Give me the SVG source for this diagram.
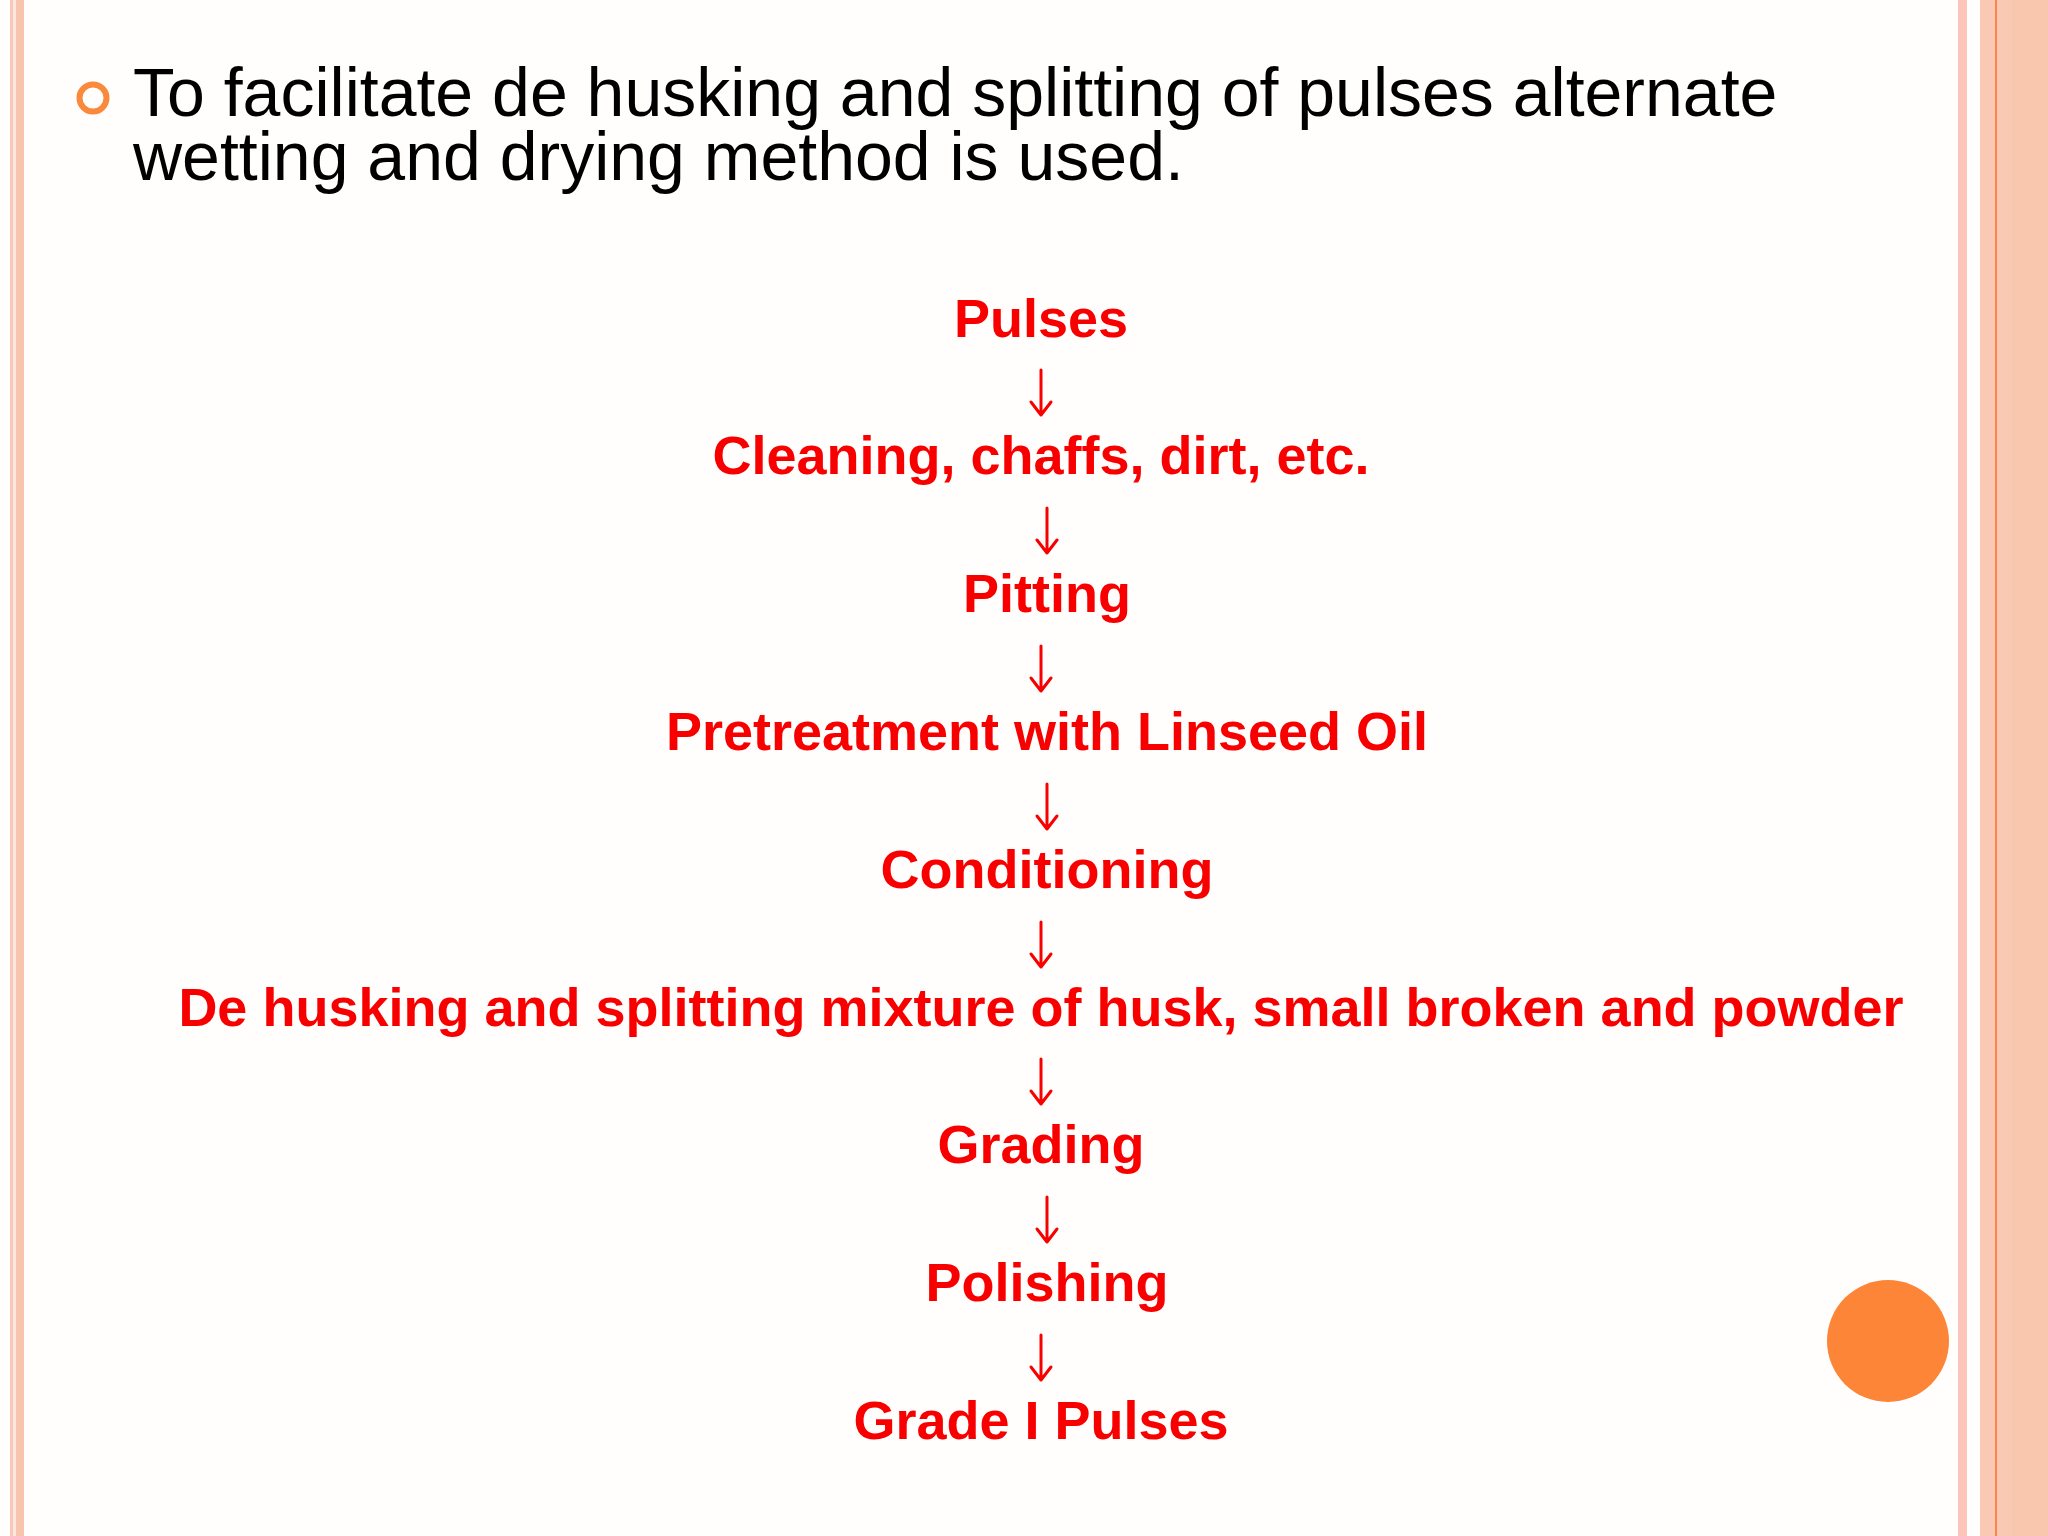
<svg xmlns="http://www.w3.org/2000/svg" width="2048" height="1536" viewBox="0 0 2048 1536">
<style>
.step{font-family:"Liberation Sans",Arial,sans-serif;font-weight:bold;font-size:54px;fill:#f80000;text-anchor:middle}
.body{font-family:"Liberation Sans",Arial,sans-serif;font-size:68px;fill:#000}
.arr{stroke:#f80000;stroke-width:3;fill:none;stroke-linecap:round;stroke-linejoin:round}
</style>
<rect width="2048" height="1536" fill="#fffefd"/>
<g id="left-border">
<rect x="10" y="0" width="3" height="1536" fill="#f7c8ba"/>
<rect x="13" y="0" width="3" height="1536" fill="#fde6dc"/>
<rect x="16" y="0" width="8" height="1536" fill="#f9c4ad"/>
</g>
<g id="right-border">
<rect x="1958" y="0" width="9" height="1536" fill="#fbc6b9"/>
<rect x="1980" y="0" width="68" height="1536" fill="#fac9b3"/>
<rect x="1995" y="0" width="2" height="1536" fill="#f7874a"/>
<rect x="2012" y="0" width="36" height="1536" fill="#f9c6ae"/>
</g>
<circle id="deco-dot" cx="1888" cy="1341" r="61" fill="#fd8537"/>
<g id="bullet">
<circle cx="93" cy="98" r="13.5" fill="none" stroke="#f98a3c" stroke-width="6"/>
<text class="body" x="133" y="116">To facilitate de husking and splitting of pulses alternate</text>
<text class="body" x="133" y="180">wetting and drying method is used.</text>
</g>
<g id="n1"><text class="step" x="1041" y="337">Pulses</text></g>
<g id="n2"><text class="step" x="1041" y="474">Cleaning, chaffs, dirt, etc.</text></g>
<g id="n3"><text class="step" x="1047" y="612">Pitting</text></g>
<g id="n4"><text class="step" x="1047" y="750">Pretreatment with Linseed Oil</text></g>
<g id="n5"><text class="step" x="1047" y="888">Conditioning</text></g>
<g id="n6"><text class="step" x="1041" y="1026">De husking and splitting mixture of husk, small broken and powder</text></g>
<g id="n7"><text class="step" x="1041" y="1163">Grading</text></g>
<g id="n8"><text class="step" x="1047" y="1301">Polishing</text></g>
<g id="n9"><text class="step" x="1041" y="1439">Grade I Pulses</text></g>
<g id="connectors" class="arr">
<path d="M1041 370v45M1031 402l10 13l10-13"/>
<path d="M1047 508v45M1037 540l10 13l10-13"/>
<path d="M1041 646v45M1031 678l10 13l10-13"/>
<path d="M1047 784v45M1037 816l10 13l10-13"/>
<path d="M1041 922v45M1031 954l10 13l10-13"/>
<path d="M1041 1059v45M1031 1091l10 13l10-13"/>
<path d="M1047 1197v45M1037 1229l10 13l10-13"/>
<path d="M1041 1335v45M1031 1367l10 13l10-13"/>
</g>
</svg>
